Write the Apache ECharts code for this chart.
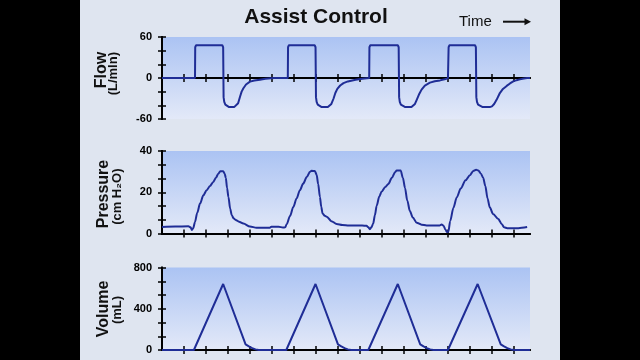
<!DOCTYPE html>
<html><head><meta charset="utf-8">
<script src="https://cdn.jsdelivr.net/npm/echarts@6/dist/echarts.min.js"></script>
<style>
html,body{margin:0;padding:0;background:#000;width:640px;height:360px;overflow:hidden}
#c{position:absolute;left:80px;top:0;width:480px;height:360px}
</style></head><body><div id="c"></div>
<script>
// ---- data (time in tick units) ----
const flowT = [0,1.5,1.51,1.55,2.74,2.78,2.8,2.83,2.88,2.95,3.05,3.28,3.36,3.46,3.55,3.62,3.7,3.82,4.0,4.2,4.45,4.7,4.95,5.1,
  5.72,5.73,5.77,6.94,6.98,7.0,7.03,7.08,7.15,7.26,7.54,7.63,7.7,7.8,7.88,7.97,8.1,8.25,8.45,8.8,9.1,
  9.42,9.43,9.47,10.72,10.76,10.78,10.81,10.86,10.94,11.06,11.34,11.43,11.5,11.58,11.7,11.8,11.95,12.18,12.4,12.64,12.85,13.0,
  13.02,13.03,13.07,14.23,14.27,14.29,14.32,14.37,14.45,14.58,14.9,15.0,15.1,15.21,15.36,15.5,15.67,15.82,15.97,16.12,16.27,16.45,16.6,16.73];
const flowV = [0,0,45,48,48,45,-28,-35,-39,-41.5,-42.6,-42.6,-41.5,-37,-27,-20,-15,-9.5,-5.3,-3.6,-2.4,-1.2,-0.3,0,
  0,45,48,48,45,-28,-35,-39,-41.5,-42.6,-42.6,-41.5,-38,-30,-22,-16,-11,-7.5,-5,-2.5,-1.2,
  0,45,48,48,45,-28,-35,-39,-41.5,-42.6,-42.6,-41.5,-38,-32,-23,-17,-11,-6.8,-4.8,-3.5,-1.8,-0.5,
  0,45,48,48,45,-28,-35,-39,-41.5,-42.6,-42.6,-41.5,-38,-32,-22,-16,-11.6,-8,-5,-3.2,-2,-0.8,0,0];

const pressT = [0,0.6,1.2,1.3,1.36,1.42,1.5,1.6,1.73,1.88,2.03,2.18,2.33,2.45,2.56,2.65,2.78,2.85,2.9,2.96,3.02,3.1,3.17,3.25,3.35,3.5,3.7,4.0,4.3,4.9,4.97,5.3,5.5,
  5.6,5.67,5.82,5.97,6.12,6.27,6.42,6.58,6.73,6.8,6.95,7.03,7.1,7.18,7.24,7.3,7.4,7.49,7.7,7.94,8.2,8.5,9.1,9.3,
  9.38,9.45,9.52,9.6,9.68,9.76,9.88,9.99,10.15,10.29,10.45,10.6,10.67,10.85,10.95,11.05,11.15,11.27,11.4,11.58,11.8,12.03,12.62,12.71,12.8,12.88,12.96,
  13.02,13.1,13.25,13.4,13.58,13.8,14.0,14.15,14.28,14.38,14.5,14.6,14.7,14.8,14.9,15.05,15.29,15.45,15.55,15.7,16.2,16.6];
const pressV = [3.2,3.4,3.5,3.0,1.7,2.6,5.6,10,14.5,18.5,21,23,25,27,29,30.2,30.2,29,27,22,17.7,12,8.9,7.4,6.6,5.7,4.8,3.4,2.8,2.8,3.3,3.3,2.9,
  3.0,4.5,8.5,12.9,17,21,24.2,27.4,30,30.4,30.3,28.5,24,17.7,13,9.7,8.6,8.1,6,4.6,4.1,3.9,3.9,3.7,
  3.0,2.1,3.0,4.8,9,13.5,18,20.4,22.5,24,27,29.8,30.6,30.6,27,22,16,10.9,7.8,5.2,4.3,3.9,3.9,4.4,3.8,2.0,0.7,
  0.9,6,12.5,17.5,21.8,25.8,28.3,30.3,30.9,30.6,29,27,23,17,12.7,9.5,7,4.5,3,2.6,2.6,3.1];

const volT = [0,1.45,2.78,3.8,3.95,4.1,4.25,4.4,5.65,6.98,8.0,8.15,8.3,8.45,8.6,9.38,10.72,11.74,11.89,12.04,12.19,12.34,13.0,14.35,15.4,15.55,15.7,15.85,16.0,16.73];
const volV = [0,0,640,55,35,18,6,0,0,640,55,35,18,6,0,0,640,55,35,18,6,0,0,640,55,35,18,6,0,0];

const xMax = 16.73;
const xTicks = [1,2,3,4,5,6,7,8,9,10,11,12,13,14,15,16];
const flowTicks = [-60,-40,-20,0,20,40,60];
const flowLabels = [-60,0,60];
const pressTicks = [0,20/3,40/3,20,80/3,100/3,40];
const pressLabels = [0,20,40];
const volTicks = [0,400/3,800/3,400,1600/3,2000/3,800];
const volLabels = [0,400,800];

const zip = (a,b) => a.map((v,i)=>[v,b[i]]);
const LINE = '#1f2d96';
const FONT = '"Liberation Sans", Arial, sans-serif';

const plotBg = new echarts.graphic.LinearGradient(0,0,0,1,[
  {offset:0,color:'#abc3f3'},{offset:1,color:'#e3e9f8'}]);

const grids = [
  {left:82,right:30,top:37,height:82},
  {left:82,right:30,top:151,height:82.5},
  {left:82,right:30,top:267.5,height:82.5}
].map(g=>Object.assign(g,{show:true,backgroundColor:plotBg,borderWidth:0}));

function mkX(grid, inside, onZeroIdx){
  return {type:'value',gridIndex:grid,min:0,max:xMax,interval:1,position:'bottom',
    axisLine:{show:true,onZero:onZeroIdx!=null,onZeroAxisIndex:onZeroIdx==null?undefined:onZeroIdx,
      lineStyle:{color:'#000',width:2}},
    axisTick:{show:true,inside:inside,length:4,customValues:xTicks,lineStyle:{color:'#000',width:1.5}},
    axisLabel:{show:false},splitLine:{show:false}};
}
function mkY(grid, inside, min, max, ticks, labels){
  return {type:'value',gridIndex:grid,min:min,max:max,interval:(max-min)/6,position:'left',
    axisLine:{show:true,onZero:false,lineStyle:{color:'#000',width:2}},
    axisTick:{show:true,inside:inside,length:4,customValues:ticks,lineStyle:{color:'#000',width:1.5}},
    axisLabel:{show:!inside,customValues:labels,margin:10,color:'#000',fontWeight:'bold',fontSize:11,fontFamily:FONT,
      formatter:v=>labels.some(l=>Math.abs(l-v)<1e-6)?String(Math.round(v)):''},
    splitLine:{show:false}};
}

const chart = echarts.init(document.getElementById('c'),null,{renderer:'canvas'});
chart.setOption({
  animation:false,
  backgroundColor:'#dfe5f0',
  grid:grids,
  xAxis:[mkX(0,false,0),mkX(0,true,0),mkX(1,false,null),mkX(1,true,null),mkX(2,false,null),mkX(2,true,null)],
  yAxis:[mkY(0,false,-60,60,flowTicks,flowLabels),mkY(0,true,-60,60,flowTicks,flowLabels),
         mkY(1,false,0,40,pressTicks,pressLabels),mkY(1,true,0,40,pressTicks,pressLabels),
         mkY(2,false,0,800,volTicks,volLabels),mkY(2,true,0,800,volTicks,volLabels)],
  series:[
    {type:'line',xAxisIndex:0,yAxisIndex:0,data:zip(flowT,flowV),showSymbol:false,lineStyle:{color:LINE,width:2},z:5},
    {type:'line',xAxisIndex:2,yAxisIndex:2,data:zip(pressT,pressV),showSymbol:false,smooth:0.3,smoothMonotone:'x',lineStyle:{color:LINE,width:2},z:5},
    {type:'line',xAxisIndex:4,yAxisIndex:4,data:zip(volT,volV),showSymbol:false,lineStyle:{color:LINE,width:2},z:5}
  ],
  graphic:[
    {type:'text',x:236,y:17.7,style:{text:'Assist Control',font:'bold 21px '+FONT,fill:'#111',align:'center',verticalAlign:'middle',
      shadowColor:'rgba(0,0,0,0.35)',shadowBlur:2,shadowOffsetX:1,shadowOffsetY:1}},
    {type:'text',x:379,y:21.5,style:{text:'Time',font:'15px '+FONT,fill:'#111',align:'left',verticalAlign:'middle'}},
    {type:'line',shape:{x1:423,y1:21.7,x2:446,y2:21.7},style:{stroke:'#111',lineWidth:2}},
    {type:'polygon',shape:{points:[[451,21.7],[444.5,18.2],[444.5,25.2]]},style:{fill:'#111'}},
    {type:'text',x:21.5,y:70,rotation:Math.PI/2,style:{text:'Flow',font:'bold 16px '+FONT,fill:'#111',align:'center',verticalAlign:'middle'}},
    {type:'text',x:33,y:73.7,rotation:Math.PI/2,style:{text:'(L/mln)',font:'bold 13px '+FONT,fill:'#111',align:'center',verticalAlign:'middle'}},
    {type:'text',x:24,y:194,rotation:Math.PI/2,style:{text:'Pressure',font:'bold 16px '+FONT,fill:'#111',align:'center',verticalAlign:'middle'}},
    {type:'text',x:37.8,y:196.7,rotation:Math.PI/2,style:{text:'(cm H₂O)',font:'bold 13px '+FONT,fill:'#111',align:'center',verticalAlign:'middle'}},
    {type:'text',x:24,y:309,rotation:Math.PI/2,style:{text:'Volume',font:'bold 16px '+FONT,fill:'#111',align:'center',verticalAlign:'middle'}},
    {type:'text',x:37.8,y:310,rotation:Math.PI/2,style:{text:'(mL)',font:'bold 13px '+FONT,fill:'#111',align:'center',verticalAlign:'middle'}}
  ]
});
</script></body></html>
